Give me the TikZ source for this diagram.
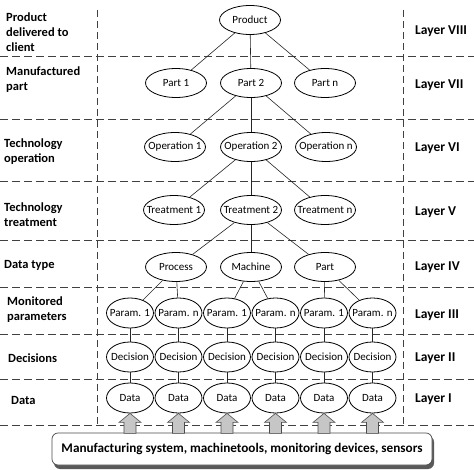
\documentclass[tikz,border=0pt]{standalone}
\usepackage{fontspec}
\setmainfont{Carlito}
\usetikzlibrary{shapes.geometric}
\newcommand\zw[1]{\makebox[0pt]{#1}}
\begin{document}
\begin{tikzpicture}[x=1pt,y=-1pt,
  big/.style={ellipse,draw,line width=0.8pt,minimum width=61pt,minimum height=29pt,inner sep=0pt,font=\fontsize{11}{13}\selectfont},
  small/.style={ellipse,draw,line width=0.8pt,minimum width=47pt,minimum height=30pt,inner sep=0pt,font=\fontsize{11}{13}\selectfont},
  link/.style={line width=0.6pt,draw=black!85},
  sep/.style={dash pattern=on 8pt off 4pt,line width=1pt,draw=black!75},
  vsep/.style={dash pattern=on 7pt off 4pt,line width=0.9pt,draw=black!75},
  lbl/.style={anchor=west,align=left,font=\bfseries\fontsize{12.5}{15}\selectfont,inner sep=0pt},
  lay/.style={anchor=west,font=\bfseries\fontsize{13.5}{15}\selectfont,inner sep=0pt},
  blk/.style={fill=gray!45,draw=black!70,line width=0.6pt}
]
\useasboundingbox (0,0) rectangle (474,470);
\fill[white] (0,0) rectangle (474,470);
% separators
\foreach \yy in {57,120,182,241,288,335,379,425}
  \draw[sep] (0,\yy) -- (474,\yy);
\draw[vsep] (97,10) -- (97,427);
\draw[vsep] (403,10) -- (403,427);
% left labels
\node[lbl] (l8) at (6,32) {Product\\delivered to\\client};
\node[lbl] (l7) at (6,79.5) {Manufactured\\part};
\node[lbl] (l6) at (4,152) {Technology\\operation};
\node[lbl] (l5) at (4,214.5) {Technology\\treatment};
\node[lbl] (l4) at (4,265) {Data type};
\node[lbl] (l3) at (7,309.5) {Monitored\\parameters};
\node[lbl] (l2) at (8,358) {Decisions};
\node[lbl] (l1) at (11,400) {Data};
% right labels
\node[lay] (r8) at (415,31) {Layer VIII};
\node[lay] (r7) at (415,85) {Layer VII};
\node[lay] (r6) at (415,148) {Layer VI};
\node[lay] (r5) at (415,212) {Layer V};
\node[lay] (r4) at (415,267) {Layer IV};
\node[lay] (r3) at (415,315) {Layer III};
\node[lay] (r2) at (415,358) {Layer II};
\node[lay] (r1) at (415,399) {Layer I};
% tree
\node[big] (prod) at (250,20) {\zw{Product}};
\node[big] (p1) at (176,83) {\zw{Part 1}};
\node[big] (p2) at (251,83) {\zw{Part 2}};
\node[big] (pn) at (325,83) {\zw{Part n}};
\node[big] (o1) at (175,147) {\zw{Operation 1}};
\node[big] (o2) at (251,147) {\zw{Operation 2}};
\node[big] (on) at (326,147) {\zw{Operation n}};
\node[big] (t1) at (174,210) {\zw{Treatment 1}};
\node[big] (t2) at (251,210) {\zw{Treatment 2}};
\node[big] (tn) at (325,210) {\zw{Treatment n}};
\node[big] (dproc) at (176,267) {\zw{Process}};
\node[big] (dmach) at (251,267) {\zw{Machine}};
\node[big] (dpart) at (325,267) {\zw{Part}};
\foreach \i/\xx/\pp in {1/130/Param. 1,2/178.5/Param. n,3/227/Param. 1,4/275.5/Param. n,5/324/Param. 1,6/372.5/Param. n}{
  \node[small] (pa\i) at (\xx,313) {\zw{\pp}};
  \node[small] (dc\i) at (\xx,357) {\zw{Decision}};
  \node[small] (da\i) at (\xx,398) {\zw{Data}};
  \draw[link] (pa\i) -- (dc\i);
  \draw[link] (dc\i) -- (da\i);
}
\foreach \a/\b in {prod/p1,prod/p2,prod/pn,p2/o1,p2/o2,p2/on,o2/t1,o2/t2,o2/tn,t2/dproc,t2/dmach,t2/dpart,dproc/pa1,dproc/pa2,dmach/pa3,dmach/pa4,dpart/pa5,dpart/pa6}
  \draw[link] (\a) -- (\b);
% bottom box
\fill[black!65,rounded corners=6pt] (54,436) rectangle (434,469);
\node[draw=black!70,line width=0.7pt,fill=white,rounded corners=6pt,minimum width=380pt,minimum height=32pt,inner sep=0pt,font=\bfseries\fontsize{13.2}{15}\selectfont] (sys) at (242,449) {Manufacturing system, machinetools, monitoring devices, sensors};
% block arrows
\foreach \i in {1,...,6}
  \draw[blk] (da\i.south) -- ++(11,9) -- ++(-5,0) -- ++(0,11) -- ++(-12,0) -- ++(0,-11) -- ++(-5,0) -- cycle;
\end{tikzpicture}
\end{document}
